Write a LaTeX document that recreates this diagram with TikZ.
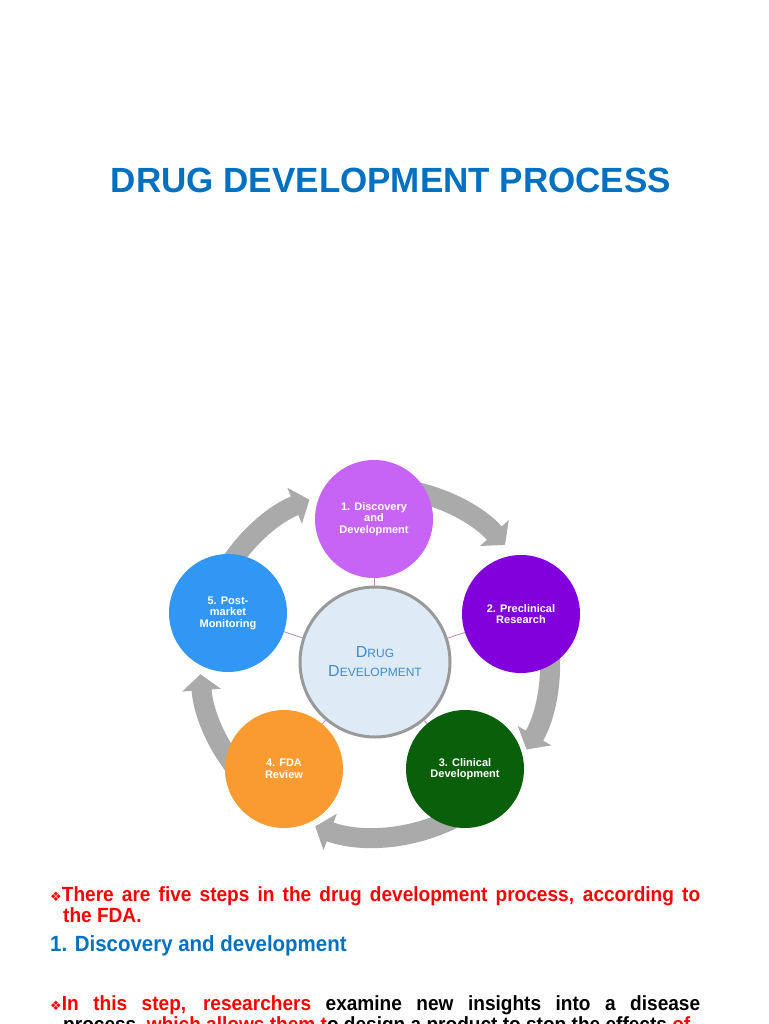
\documentclass[tikz,border=0pt]{standalone}
\usepackage{fontspec}
\setmainfont{Liberation Sans}
\newfontfamily\narrow[FakeStretch=0.93]{Liberation Sans}
\newfontfamily\dv{DejaVu Sans}
\usetikzlibrary{arrows.meta,calc}
\definecolor{tblue}{RGB}{0,112,192}
\definecolor{tred}{RGB}{255,0,0}
\definecolor{ringgray}{RGB}{170,170,170}
\begin{document}
\begin{tikzpicture}[x=1pt,y=-1pt,
 stepc/.style={circle,minimum size=118pt,inner sep=0pt,text=white,font=\bfseries\fontsize{11}{11.5}\selectfont,align=center},
 spoke/.style={draw=violet!50,line width=0.8pt},
 ringarr/.style={draw=ringgray,line width=20pt,-{Triangle[width=38pt,length=16pt]}}]
\useasboundingbox (0,0) rectangle (768,1024);
\clip (0,0) rectangle (768,1024);
\node[font=\bfseries\fontsize{35}{35}\selectfont,text=tblue] (title) at (391,180) {DRUG DEVELOPMENT PROCESS};
\coordinate (c) at (375,662);
% ring arrows
\foreach \a/\b in {-84/-42, -10/30, 62/110, 134/176, -154/-112}{
  \draw[ringarr] ($(c)+(\a:175)$) arc[start angle=\a,end angle=\b,radius=175];
}
\node[circle,minimum size=150pt,draw=gray!80,line width=3pt,fill={rgb,255:red,222;green,235;blue,247}] (center) at (c) {};
\node[stepc,fill={rgb,255:red,200;green,100;blue,245}] (s1) at (374,519) {1. Discovery\\and\\Development};
\node[stepc,fill={rgb,255:red,130;green,0;blue,220}] (s2) at (521,614) {2. Preclinical\\Research};
\node[stepc,fill={rgb,255:red,10;green,95;blue,10}] (s3) at (465,769) {3. Clinical\\Development};
\node[stepc,fill={rgb,255:red,250;green,155;blue,50}] (s4) at (284,769) {4. FDA\\Review};
\node[stepc,fill={rgb,255:red,50;green,150;blue,245}] (s5) at (228,613) {5. Post-\\market\\Monitoring};
\foreach \s in {s1,s2,s3,s4,s5}{\draw[spoke] (center) -- (\s);}
\node[text={rgb,255:red,60;green,140;blue,210},font=\fontsize{16}{19}\selectfont,align=center] (ct) at (c) {D{\fontsize{12}{12}\selectfont RUG}\\D{\fontsize{12}{12}\selectfont EVELOPMENT}};
% text
\node[anchor=north west,inner sep=0pt,font=\narrow\bfseries\fontsize{20.5}{21.5}\selectfont,text=tred] (p1) at (50,886)
 {\parbox[t]{650pt}{\hangindent=13pt\hangafter=1{\dv\fontsize{13}{13}\selectfont ❖}There are five steps in the drug development process, according to\linebreak the FDA.}};
\node[anchor=west,inner sep=0pt,font=\narrow\bfseries\fontsize{22}{22}\selectfont,text=tblue] (h1) at (50,946) {1. Discovery and development};
\node[anchor=north west,inner sep=0pt,font=\narrow\bfseries\fontsize{20.5}{21.5}\selectfont] (p2) at (50,995)
 {\parbox[t]{650pt}{\hangindent=13pt\hangafter=1{\color{tred}{\dv\fontsize{13}{13}\selectfont ❖}In this step, researchers} examine new insights into a disease\linebreak process, {\color{tred}which allows them t}o design a product to stop the effects {\color{tred}of}}};
\end{tikzpicture}
\end{document}
